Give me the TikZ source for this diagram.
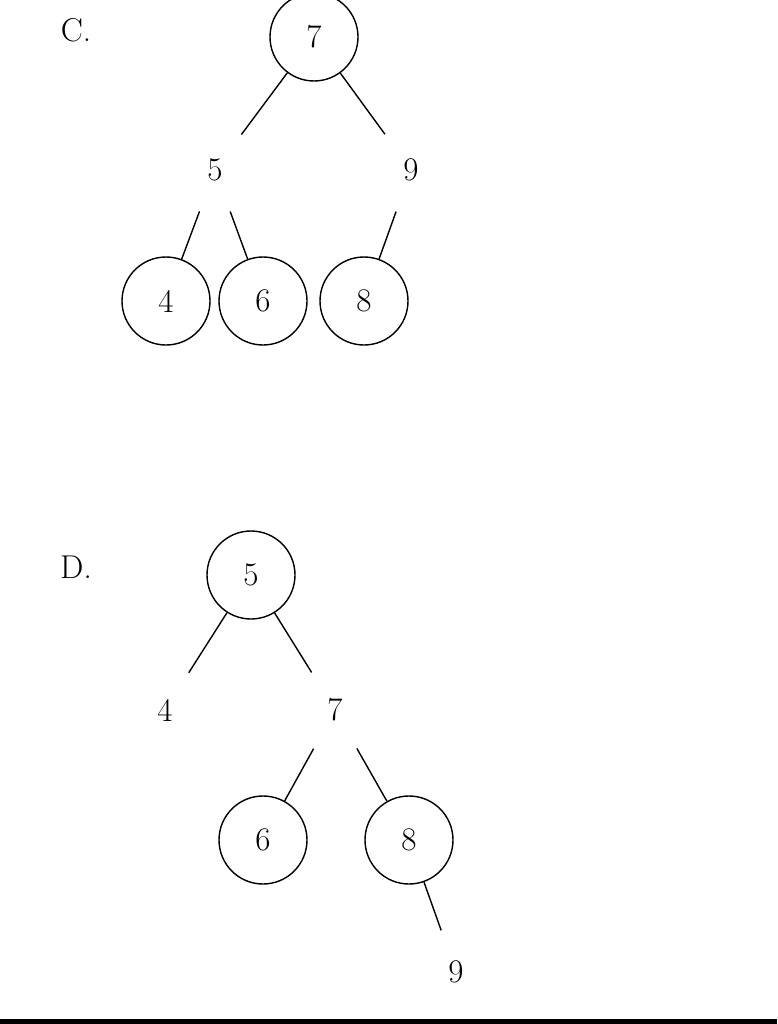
\documentclass[tikz,border=0pt]{standalone}
\begin{document}
\begin{tikzpicture}[x=1pt,y=-1pt,
  every node/.style={font=\fontsize{33}{38}\selectfont},
  cnode/.style={circle,draw,line width=1.4pt,minimum size=88pt,inner sep=0pt},
  tnode/.style={circle,minimum size=88pt,inner sep=0pt},
  edge/.style={line width=1.4pt}]
\useasboundingbox (0,0) rectangle (777,1024);
\fill[black] (0,1019) rectangle (777,1024);
\node (lc) at (76,30) {C.};
\node[cnode] (c7) at (314,37) {7};
\node[tnode] (c5) at (215,170) {5};
\node[tnode] (c9) at (411,170) {9};
\node[cnode] (c4) at (166,301) {4};
\node[cnode] (c6) at (263,301) {6};
\node[cnode] (c8) at (364,301) {8};
\draw[edge] (c7) -- (c5);
\draw[edge] (c7) -- (c9);
\draw[edge] (c5) -- (c4);
\draw[edge] (c5) -- (c6);
\draw[edge] (c9) -- (c8);
\node (ld) at (76,567) {D.};
\node[cnode] (d5) at (251,575) {5};
\node[tnode] (d4) at (165,710) {4};
\node[tnode] (d7) at (335,710) {7};
\node[cnode] (d6) at (263,840) {6};
\node[cnode] (d8) at (409,840) {8};
\node[tnode] (d9) at (456,972) {9};
\draw[edge] (d5) -- (d4);
\draw[edge] (d5) -- (d7);
\draw[edge] (d7) -- (d6);
\draw[edge] (d7) -- (d8);
\draw[edge] (d8) -- (d9);
\end{tikzpicture}
\end{document}
